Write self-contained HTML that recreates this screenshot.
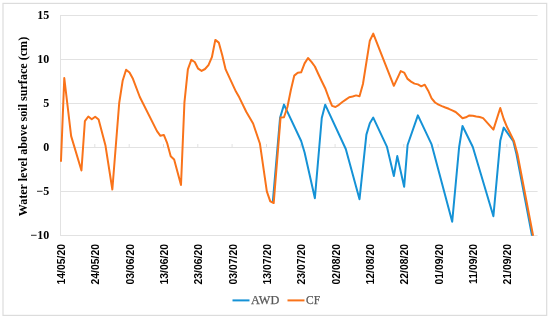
<!DOCTYPE html>
<html><head><meta charset="utf-8"><style>
html,body{margin:0;padding:0;background:#fff;}
svg{display:block;}
.xl text{font-family:"Liberation Sans",sans-serif;font-weight:bold;font-size:10.4px;fill:#000;}
.yl text{font-family:"Liberation Serif",serif;font-weight:bold;font-size:12px;fill:#000;}
.tt{font-family:"Liberation Serif",serif;font-weight:bold;font-size:13.5px;fill:#000;}
.lg{font-family:"Liberation Serif",serif;font-size:11.5px;fill:#595959;stroke:#595959;stroke-width:0.25px;}
</style></head><body>
<svg width="550" height="318" viewBox="0 0 550 318">
<defs><clipPath id="pa"><rect x="55" y="10" width="490" height="225.8"/></clipPath></defs>
<rect x="3.0" y="3.4" width="543.7" height="312" fill="#fff" stroke="#DCDCDC" stroke-width="1.2"/>
<g stroke="#E2E2E2" stroke-width="1" fill="none"><line x1="60" y1="15.5" x2="537.6" y2="15.5"/><line x1="60" y1="59.5" x2="537.6" y2="59.5"/><line x1="60" y1="103.5" x2="537.6" y2="103.5"/><line x1="60" y1="191.5" x2="537.6" y2="191.5"/><line x1="60" y1="235.5" x2="537.6" y2="235.5"/>
<line x1="60" y1="147.5" x2="537.6" y2="147.5"/>
<line x1="60.5" y1="15" x2="60.5" y2="236"/>
<line x1="60.5" y1="144" x2="60.5" y2="147.5"/><line x1="94.8" y1="144" x2="94.8" y2="147.5"/><line x1="129.2" y1="144" x2="129.2" y2="147.5"/><line x1="163.5" y1="144" x2="163.5" y2="147.5"/><line x1="197.8" y1="144" x2="197.8" y2="147.5"/><line x1="232.1" y1="144" x2="232.1" y2="147.5"/><line x1="266.5" y1="144" x2="266.5" y2="147.5"/><line x1="300.8" y1="144" x2="300.8" y2="147.5"/><line x1="335.1" y1="144" x2="335.1" y2="147.5"/><line x1="369.5" y1="144" x2="369.5" y2="147.5"/><line x1="403.8" y1="144" x2="403.8" y2="147.5"/><line x1="438.1" y1="144" x2="438.1" y2="147.5"/><line x1="472.5" y1="144" x2="472.5" y2="147.5"/><line x1="506.8" y1="144" x2="506.8" y2="147.5"/></g>
<g clip-path="url(#pa)" fill="none" stroke-width="2" stroke-linejoin="round" stroke-linecap="butt">
<polyline stroke="#1592D6" points="272.70,203.0 280.06,117.8 284.00,104.6 301.16,141.0 304.59,152.5 314.89,198.2 321.76,118.0 325.19,104.7 345.79,149.0 359.52,199.2 366.39,134.6 369.82,123.2 373.25,117.6 386.99,146.9 393.85,176.0 397.28,156.1 404.15,186.8 407.58,145.0 417.88,115.4 431.61,144.4 452.21,221.7 459.08,147.5 462.51,126.0 472.81,147.0 493.41,216.2 500.27,140.8 503.71,127.6 513.31,141.2 516.44,154.0 533.50,243.5"/>
<polyline stroke="#F9731A" points="60.95,161.8 64.28,78.0 71.15,136.1 81.45,170.5 84.88,121.2 88.31,116.5 91.75,119.2 95.18,116.7 98.61,119.6 105.48,145.6 112.34,189.5 119.21,103.0 122.64,80.8 126.08,69.8 129.51,72.6 132.94,78.8 139.81,97.0 156.97,131.1 160.41,135.8 163.84,134.9 167.27,143.4 170.71,156.3 174.14,159.5 181.00,185.0 184.44,102.3 187.87,69.4 191.30,59.9 194.74,62.0 198.17,68.7 201.60,70.9 205.04,69.0 208.47,65.1 211.90,57.2 215.33,39.9 218.77,42.6 222.20,54.9 225.63,69.4 235.93,91.6 239.37,97.6 246.23,111.7 253.10,123.5 259.96,143.8 266.83,191.4 270.26,201.4 273.70,203.0 280.56,117.6 284.00,117.2 287.43,107.0 290.86,90.0 294.29,75.6 297.73,72.8 301.16,72.3 304.59,63.4 308.03,58.0 311.46,61.8 314.89,66.5 318.32,74.0 321.76,81.2 325.19,88.2 328.62,97.5 332.06,105.9 335.49,107.0 338.92,104.8 342.36,102.0 345.79,99.7 349.22,97.3 352.66,96.5 356.09,95.4 359.52,96.2 362.95,84.0 369.82,40.7 373.25,33.6 393.85,85.8 400.72,71.1 404.15,72.6 407.58,78.9 411.02,81.6 414.45,83.6 417.88,84.4 421.31,86.3 424.75,84.7 428.18,90.7 431.61,98.3 435.05,102.5 438.48,104.6 441.91,106.1 445.35,107.5 448.78,108.8 452.21,110.4 455.64,112.0 459.08,115.1 462.51,118.2 465.94,117.3 469.38,115.4 472.81,115.7 476.24,116.5 479.68,117.0 483.11,118.1 493.41,129.6 500.27,108.0 503.71,119.0 507.14,127.3 514.01,141.2 517.44,154.0 534.60,243.5"/>
</g>
<g class="yl"><text x="49.3" y="15.5" dy="0.33em" text-anchor="end">15</text><text x="49.3" y="59.5" dy="0.33em" text-anchor="end">10</text><text x="49.3" y="103.5" dy="0.33em" text-anchor="end">5</text><text x="49.3" y="147.5" dy="0.33em" text-anchor="end">0</text><text x="49.3" y="191.5" dy="0.33em" text-anchor="end">−5</text><text x="49.3" y="235.5" dy="0.33em" text-anchor="end">−10</text></g>
<g class="xl"><text transform="translate(61.5,244) rotate(-90)" x="0" y="0" dy="0.35em" text-anchor="end">14/05/20</text><text transform="translate(95.8,244) rotate(-90)" x="0" y="0" dy="0.35em" text-anchor="end">24/05/20</text><text transform="translate(130.2,244) rotate(-90)" x="0" y="0" dy="0.35em" text-anchor="end">03/06/20</text><text transform="translate(164.5,244) rotate(-90)" x="0" y="0" dy="0.35em" text-anchor="end">13/06/20</text><text transform="translate(198.8,244) rotate(-90)" x="0" y="0" dy="0.35em" text-anchor="end">23/06/20</text><text transform="translate(233.1,244) rotate(-90)" x="0" y="0" dy="0.35em" text-anchor="end">03/07/20</text><text transform="translate(267.5,244) rotate(-90)" x="0" y="0" dy="0.35em" text-anchor="end">13/07/20</text><text transform="translate(301.8,244) rotate(-90)" x="0" y="0" dy="0.35em" text-anchor="end">23/07/20</text><text transform="translate(336.1,244) rotate(-90)" x="0" y="0" dy="0.35em" text-anchor="end">02/08/20</text><text transform="translate(370.5,244) rotate(-90)" x="0" y="0" dy="0.35em" text-anchor="end">12/08/20</text><text transform="translate(404.8,244) rotate(-90)" x="0" y="0" dy="0.35em" text-anchor="end">22/08/20</text><text transform="translate(439.1,244) rotate(-90)" x="0" y="0" dy="0.35em" text-anchor="end">01/09/20</text><text transform="translate(473.5,244) rotate(-90)" x="0" y="0" dy="0.35em" text-anchor="end">11/09/20</text><text transform="translate(507.8,244) rotate(-90)" x="0" y="0" dy="0.35em" text-anchor="end">21/09/20</text></g>
<text class="tt" transform="translate(26.5,216.3) rotate(-90)" x="0" y="0" textLength="179.5" lengthAdjust="spacingAndGlyphs">Water level above soil surface (cm)</text>
<line x1="232.5" y1="300.4" x2="249.5" y2="300.4" stroke="#1592D6" stroke-width="2"/>
<text class="lg" x="251" y="303.5" textLength="28.3" lengthAdjust="spacingAndGlyphs">AWD</text>
<line x1="287.5" y1="300.4" x2="304.5" y2="300.4" stroke="#F9731A" stroke-width="2"/>
<text class="lg" x="306" y="303.5">CF</text>
</svg>
</body></html>
